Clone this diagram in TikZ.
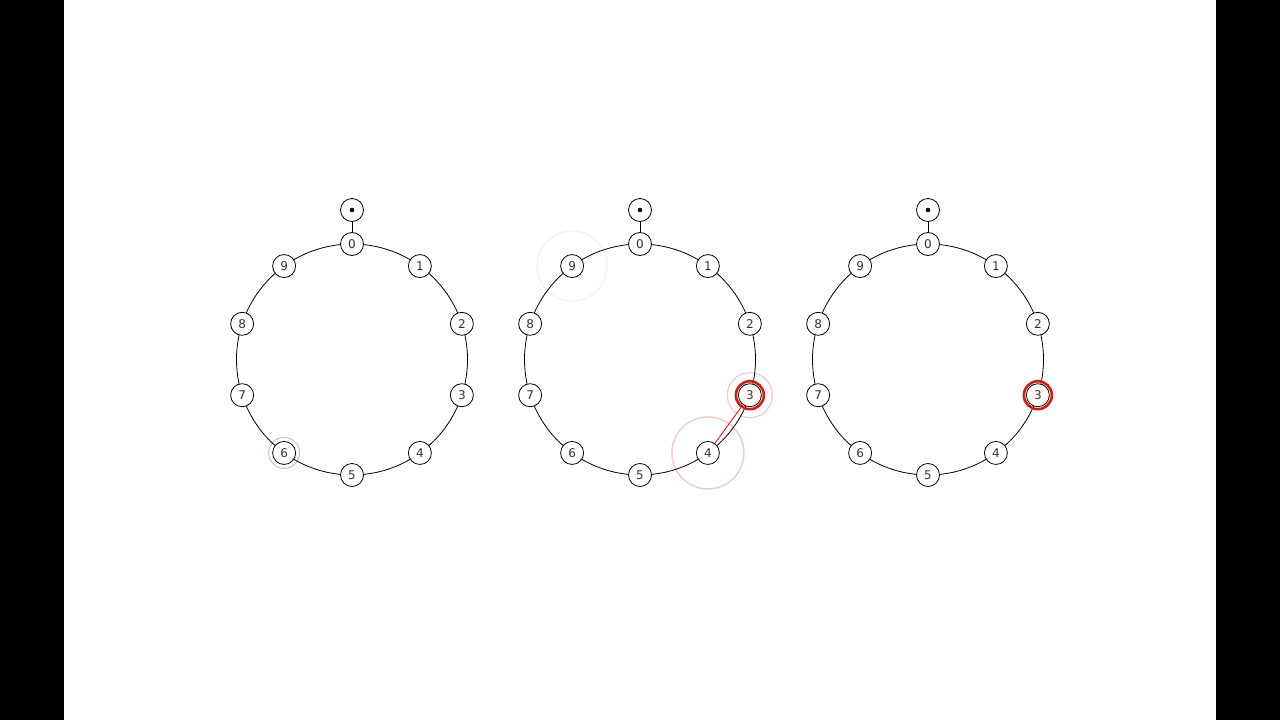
\documentclass[tikz,border=0pt]{standalone}
\usepackage{fontspec}
\setmainfont{DejaVu Sans}
\definecolor{hired}{RGB}{205,30,30}
\definecolor{softpink}{RGB}{240,205,205}
\definecolor{softpinkb}{RGB}{225,180,180}
\definecolor{softgray}{RGB}{242,242,242}
\begin{document}
\begin{tikzpicture}[x=1pt,y=-1pt,
  num/.style={circle,draw=black,fill=white,line width=0.8pt,minimum size=23pt,inner sep=0pt,
    font=\fontsize{12}{14}\selectfont,text=black!80},
  ringline/.style={draw=black,line width=0.8pt},
  hiring/.style={circle,draw=hired,line width=2.6pt,minimum size=28pt,inner sep=0pt},
  halo/.style={circle,line width=1.2pt,inner sep=0pt}]
\useasboundingbox (0,0) rectangle (1280,720);
\fill[black] (0,0) rectangle (1280,720);
\fill[white] (64,0) rectangle (1216,720);
% faint halos (under everything)
\node[halo,draw=softpinkb,line width=0.9pt,minimum size=31pt] (h6) at ({352+115.5*sin(216)},{359.5-115.5*cos(216)}) {};
\node[halo,draw=softgray,minimum size=70pt] (h9) at ({640+115.5*sin(324)},{359.5-115.5*cos(324)}) {};
\node[halo,draw=softpink,minimum size=45pt] (h3) at ({640+115.5*sin(108)},{359.5-115.5*cos(108)}) {};
\node[halo,draw=softpink,line width=1.5pt,minimum size=72pt] (h4) at ({640+115.5*sin(144)},{359.5-115.5*cos(144)}) {};
% rings
\foreach \p/\cx in {a/352,b/640,c/928}{
  \draw[ringline] (\cx,359.5) circle (115.5);
  \foreach \i in {0,...,9}{
    \node[num] (\p\i) at ({\cx+115.5*sin(36*\i)},{359.5-115.5*cos(36*\i)}) {\i};
  }
  \node[num] (\p t) at (\cx,210) {};
  \fill[black] (\p t.center) circle (2.3);
  \draw[ringline] (\p t) -- (\p0);
}
% highlights
\node[hiring] (r3) at (b3) {};
\draw[hired,line width=0.9pt] (r3) -- (b4);
\node[hiring] (s3) at (c3) {};
\end{tikzpicture}
\end{document}
